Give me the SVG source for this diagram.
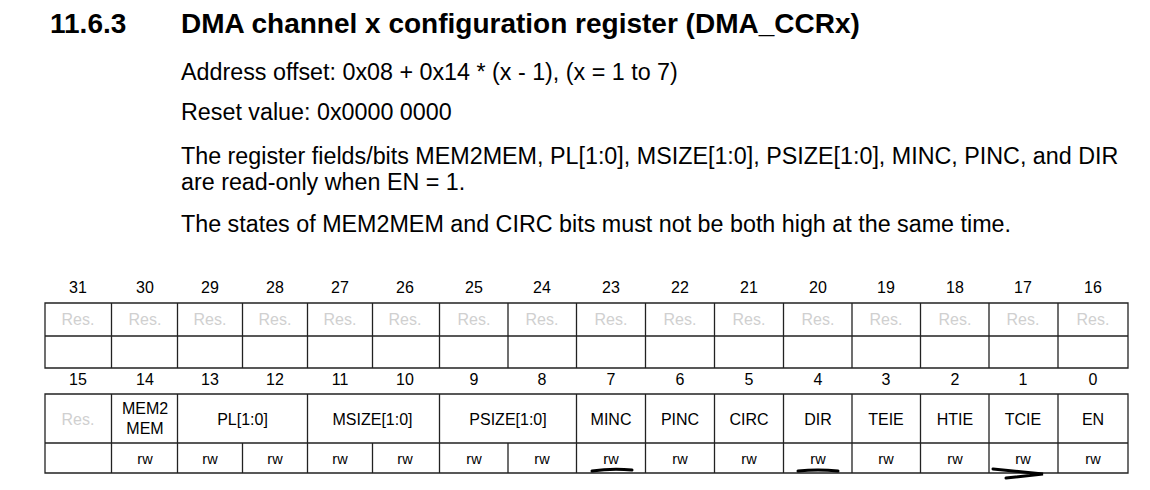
<svg xmlns="http://www.w3.org/2000/svg" width="1150" height="490" viewBox="0 0 1150 490">
<style>
text{font-family:"Liberation Sans",Arial,sans-serif}
.h{font-size:28px;font-weight:bold;fill:#000}
.b{font-size:23.3px;fill:#000}
.n text{font-size:16px;text-anchor:middle;fill:#000}
.r, .r text{font-size:16px;text-anchor:middle;fill:#d0d0d0}
.f text, .f{font-size:16px;text-anchor:middle;fill:#000}
.rw text{font-size:14.5px;text-anchor:middle;fill:#000}
.g{fill:none;stroke:#222;stroke-width:1.3}
.m{fill:none;stroke:#000;stroke-width:3;stroke-linecap:round}
</style>
<rect width="1150" height="490" fill="#fff"/>
<g id="heading">
<text class="h" x="50" y="33">11.6.3</text>
<text class="h" x="181" y="33">DMA channel x configuration register (DMA_CCRx)</text>
<text class="b" x="181" y="80">Address offset: 0x08 + 0x14 * (x - 1), (x = 1 to 7)</text>
<text class="b" x="181" y="120">Reset value: 0x0000 0000</text>
<text class="b" x="181" y="164">The register fields/bits MEM2MEM, PL[1:0], MSIZE[1:0], PSIZE[1:0], MINC, PINC, and DIR</text>
<text class="b" x="181" y="190">are read-only when EN = 1.</text>
<text class="b" x="181" y="232">The states of MEM2MEM and CIRC bits must not be both high at the same time.</text>
</g>
<g id="upper">
<g class="n">
<text x="78" y="293">31</text><text x="145" y="293">30</text><text x="210" y="293">29</text><text x="275" y="293">28</text><text x="340" y="293">27</text><text x="405" y="293">26</text><text x="474" y="293">25</text><text x="542" y="293">24</text><text x="611" y="293">23</text><text x="680" y="293">22</text><text x="749" y="293">21</text><text x="818" y="293">20</text><text x="886" y="293">19</text><text x="955" y="293">18</text><text x="1023" y="293">17</text><text x="1093" y="293">16</text>
</g>
<path class="g" d="M45 303H1128V368H45Z M45 336H1128 M111.5 303V368 M177.5 303V368 M242.5 303V368 M307.5 303V368 M372.5 303V368 M439.5 303V368 M508 303V368 M576.5 303V368 M645.5 303V368 M714.5 303V368 M783.5 303V368 M852 303V368 M920.5 303V368 M989 303V368 M1058 303V368"/>
<g class="r">
<text x="78" y="325">Res.</text><text x="145" y="325">Res.</text><text x="210" y="325">Res.</text><text x="275" y="325">Res.</text><text x="340" y="325">Res.</text><text x="405" y="325">Res.</text><text x="474" y="325">Res.</text><text x="542" y="325">Res.</text><text x="611" y="325">Res.</text><text x="680" y="325">Res.</text><text x="749" y="325">Res.</text><text x="818" y="325">Res.</text><text x="886" y="325">Res.</text><text x="955" y="325">Res.</text><text x="1023" y="325">Res.</text><text x="1093" y="325">Res.</text>
</g>
</g>
<g id="lower">
<g class="n">
<text x="78" y="385">15</text><text x="145" y="385">14</text><text x="210" y="385">13</text><text x="275" y="385">12</text><text x="340" y="385">11</text><text x="405" y="385">10</text><text x="474" y="385">9</text><text x="542" y="385">8</text><text x="611" y="385">7</text><text x="680" y="385">6</text><text x="749" y="385">5</text><text x="818" y="385">4</text><text x="886" y="385">3</text><text x="955" y="385">2</text><text x="1023" y="385">1</text><text x="1093" y="385">0</text>
</g>
<path class="g" d="M45 394H1128V473H45Z M45 443H1128 M111.5 394V473 M177.5 394V473 M242.5 443V473 M307.5 394V473 M372.5 443V473 M439.5 394V473 M508 443V473 M576.5 394V473 M645.5 394V473 M714.5 394V473 M783.5 394V473 M852 394V473 M920.5 394V473 M989 394V473 M1058 394V473"/>
<text class="r" x="78" y="425">Res.</text>
<g class="f">
<text x="145" y="414">MEM2</text><text x="145" y="434">MEM</text>
<text x="242.5" y="425">PL[1:0]</text><text x="372.5" y="425">MSIZE[1:0]</text><text x="508" y="425">PSIZE[1:0]</text><text x="611" y="425">MINC</text><text x="680" y="425">PINC</text><text x="749" y="425">CIRC</text><text x="818" y="425">DIR</text><text x="886" y="425">TEIE</text><text x="955" y="425">HTIE</text><text x="1023" y="425">TCIE</text><text x="1093" y="425">EN</text>
</g>
<g class="rw">
<text x="145" y="464">rw</text><text x="210" y="464">rw</text><text x="275" y="464">rw</text><text x="340" y="464">rw</text><text x="405" y="464">rw</text><text x="474" y="464">rw</text><text x="542" y="464">rw</text><text x="611" y="464">rw</text><text x="680" y="464">rw</text><text x="749" y="464">rw</text><text x="818" y="464">rw</text><text x="886" y="464">rw</text><text x="955" y="464">rw</text><text x="1023" y="464">rw</text><text x="1093" y="464">rw</text>
</g>
</g>
<g id="marks">
<path class="m" d="M592 471Q612 468 632 470"/>
<path class="m" d="M798 471Q818 469 838 471"/>
<path class="m" d="M993 469L1043 474L1006 478"/>
</g>
</svg>
